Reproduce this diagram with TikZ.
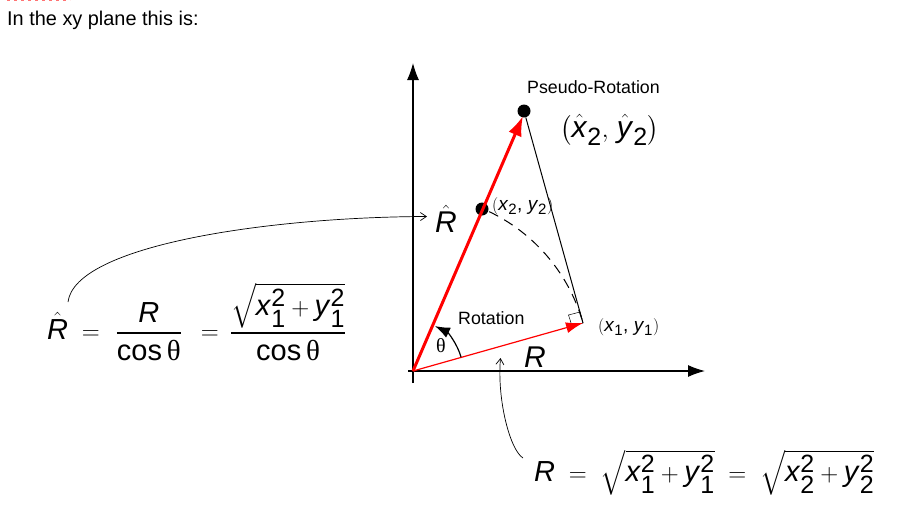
\documentclass[tikz,border=0pt]{standalone}
\usepackage{amsmath}
\usepackage{fontspec}
\setmainfont{Liberation Sans}
\newfontfamily\serifpart{Liberation Serif}
\usetikzlibrary{arrows.meta}
\DeclareMathSizes{30}{30}{25}{18}
\DeclareMathSizes{29}{29}{25}{18}
\DeclareMathSizes{19}{19}{15}{11}
\newcommand{\ivar}[1]{\text{\textit{#1}}}
\newcommand{\sqterm}[2]{\ivar{#1}^{\text{2}}_{\text{#2}}}
\newcommand{\costheta}{\text{\rule{0pt}{22.5pt}cos\,{\serifpart θ}}}
\tikzset{
    axisline/.style={line width=1.2pt,-{Latex[length=17pt,width=12pt]}},
    callout/.style={line width=0.7pt,-{Straight Barb[length=6pt,width=8pt]}},
    dotnode/.style={circle,fill=black,inner sep=0pt,minimum size=13pt},
    smalltext/.style={inner sep=0pt,font=\fontsize{17.8}{21}\selectfont},
    coordtext/.style={inner sep=0pt,font=\fontsize{19}{23}\selectfont},
    bigtext/.style={inner sep=0pt,font=\fontsize{30}{36}\selectfont},
    formulatext/.style={inner sep=0pt,font=\fontsize{29}{35}\selectfont}
}
\begin{document}
\begin{tikzpicture}[x=1pt,y=-1pt]
    \useasboundingbox (0,0) rectangle (898,525);
    \draw[red!55,line width=1.2pt,dash pattern=on 3pt off 4pt] (7,0.5) -- (70,0.5);
    \node[anchor=base west,inner sep=0pt,font=\fontsize{19.9}{24}\selectfont] (title) at (7,25) {In the xy plane this is:};
    \coordinate (O) at (413,371);
    \coordinate (ybot) at (413,383);
    \coordinate (ytop) at (413,63);
    \coordinate (xleft) at (408,371);
    \coordinate (xright) at (705,371);
    \coordinate (P1) at (583,323);
    \node[dotnode] (P2) at (482,209) {};
    \node[dotnode] (P3) at (524,111) {};
    \coordinate (P3tip) at (523,116);
    \draw[axisline] (ybot) -- (ytop);
    \draw[axisline] (xleft) -- (xright);
    % triangle
    \draw[line width=1pt] (P3) -- (P1);
    \draw[line width=0.5pt] (568.5,315) -- (580,312) -- (P1) -- (572,326) -- cycle;
    \draw[line width=1pt,dash pattern=on 10pt off 7pt,dash phase=13pt] (P1) arc[start angle=15.77,end angle=66.9,radius=176.6pt];
    \draw[red,line width=1.2pt,-{Latex[length=17pt,width=11pt]}] (O) -- (P1);
    \draw[red,line width=3pt,-{Latex[length=20pt,width=14pt]}] (O) -- (P3tip);
    \draw[line width=1.2pt,-{Latex[length=15pt,width=11pt]}] (461.1,357.2) arc[start angle=16,end angle=64,radius=50pt];
    % labels
    \node[smalltext,anchor=base west] (pseudo) at (527,93) {Pseudo-Rotation};
    \node[smalltext,anchor=base west] (rotation) at (458,324) {Rotation};
    \node[coordtext,anchor=base west] (p1label) at (598,331) {$($\ivar{x}$_{\text{1}}$, \ivar{y}$_{\text{1}})$};
    \node[coordtext,anchor=base west] (p2label) at (492,210) {$($\ivar{x}$_{\text{2}}$, \ivar{y}$_{\text{2}})$};
    \node[bigtext,anchor=base west] (p3label) at (560,137) {$\bigl(\hat{\ivar{x}}_{\text{2}},\,\hat{\ivar{y}}_{\text{2}}\bigr)$};
    \node[inner sep=0pt,font=\fontsize{20}{24}\serifpart] (thetalabel) at (441,346) {θ};
    \node[bigtext,anchor=base] (Rhat) at (446,232) {$\hat{\ivar{R}}$};
    \node[bigtext,anchor=base] (Rlabel) at (535,367) {\textit{R}};
    % formulas
    \node[formulatext,anchor=base west] (leftformula) at (47,339) {$\hat{\ivar{R}}\;=\hspace{9pt}\genfrac{}{}{1.6pt}{0}{\ivar{R}}{\costheta}\hspace{12pt}=\,\genfrac{}{}{1.6pt}{0}{\raisebox{7pt}[20pt][0pt]{$\displaystyle\sqrt{\sqterm{x}{1}+\sqterm{y}{1}}$}}{\costheta}$};
    \node[formulatext,anchor=base west] (rightformula) at (534,481) {$\ivar{R}\;=\;\sqrt{\sqterm{x}{1}+\sqterm{y}{1}}\;=\;\sqrt{\sqterm{x}{2}+\sqterm{y}{2}}$};
    % callouts
    \coordinate (leftfrom) at (68,302);
    \coordinate (leftto) at (427,216.5);
    \coordinate (rightfrom) at (523,458);
    \coordinate (rightto) at (500.5,358);
    \draw[callout] (leftfrom) .. controls (75,245) and (270,217) .. (leftto);
    \draw[callout] (rightfrom) .. controls (510,450) and (497,400) .. (rightto);
\end{tikzpicture}
\end{document}
